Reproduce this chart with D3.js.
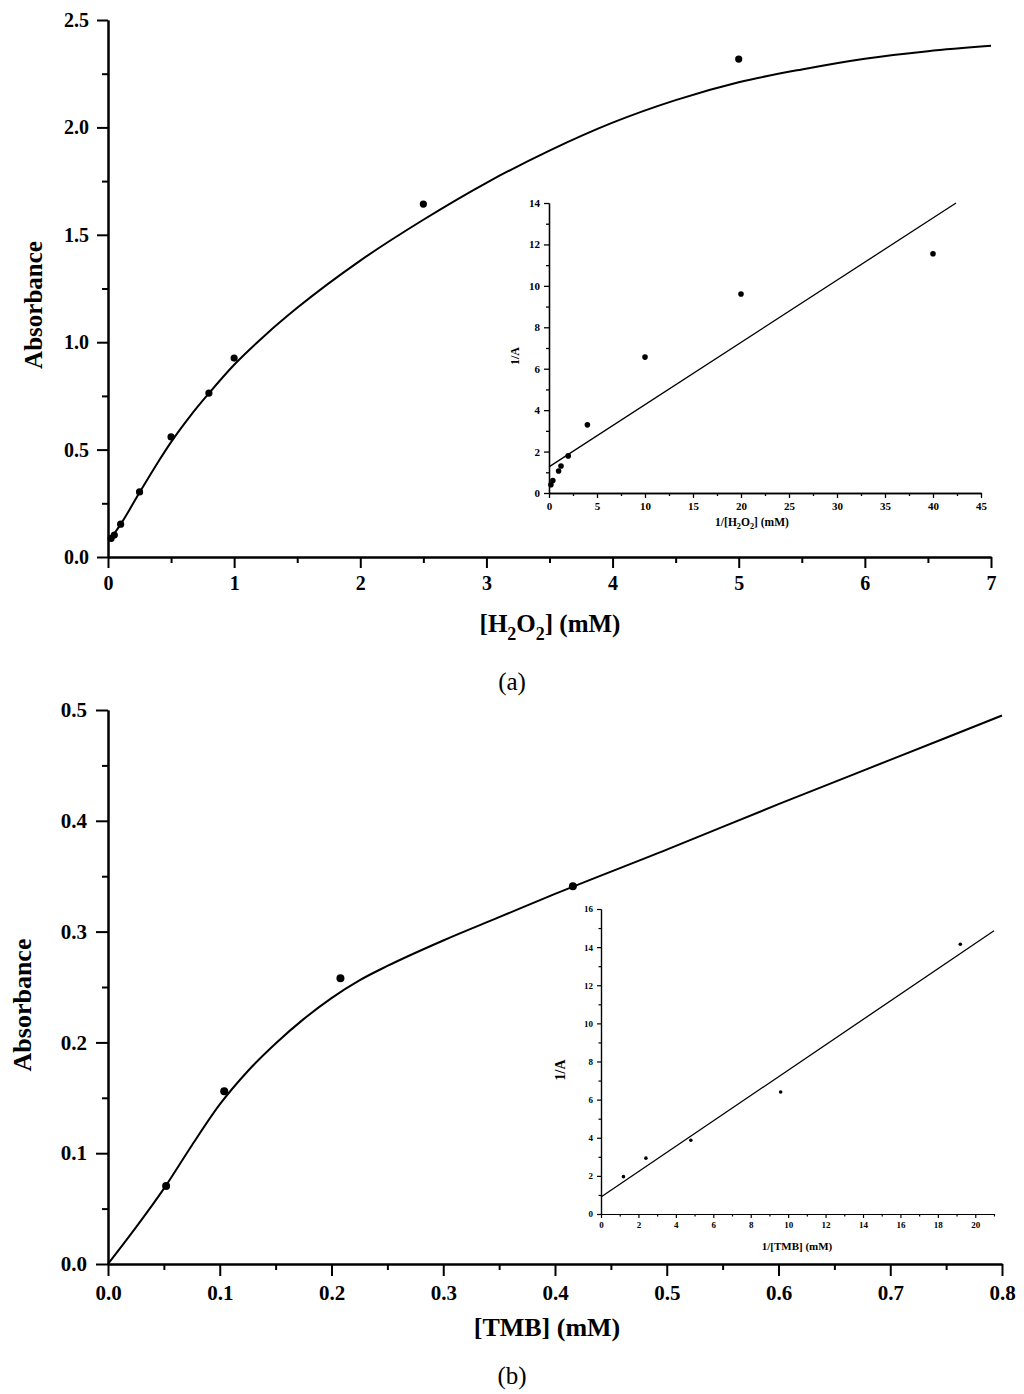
<!DOCTYPE html>
<html lang="en">
<head>
<meta charset="utf-8">
<title>Kinetics of H2O2 and TMB</title>
<script src="https://cdn.jsdelivr.net/npm/d3@7"></script>
<style>
  body { margin: 0; background: #fff; }
  svg text { font-family: "Liberation Serif", "Times New Roman", serif; fill: #000; }
</style>
</head>
<body>
<svg id="chart" width="1024" height="1394"></svg>
<script>
// ---- panel (a): H2O2 ----
var h2o2Conc = [0.025, 0.05, 0.1, 0.25, 0.5, 0.8, 1, 2.5, 5];
var h2o2Abs = [0.087, 0.102, 0.153, 0.303, 0.559, 0.763, 0.926, 1.643, 2.318];
var h2o2FitX = [0.02, 0.1, 0.25, 0.4, 0.5, 0.65, 0.8, 1.0, 1.25, 1.5, 2.0, 2.5, 3.0, 3.5, 4.0, 4.5, 5.0, 5.5, 6.0, 6.5, 7.0];
var h2o2FitY = [0.085, 0.152, 0.3, 0.445, 0.535, 0.655, 0.762, 0.895, 1.035, 1.16, 1.38, 1.57, 1.742, 1.892, 2.022, 2.127, 2.21, 2.27, 2.32, 2.355, 2.38];
var h2o2XTicks = [0, 1, 2, 3, 4, 5, 6, 7];
var h2o2XMinor = [0.5, 1.5, 2.5, 3.5, 4.5, 5.5, 6.5];
var h2o2YTicks = [0, 0.5, 1, 1.5, 2, 2.5];
var h2o2YMinor = [0.25, 0.75, 1.25, 1.75, 2.25];

// inset (a): double reciprocal
var h2o2InvX = [0.2, 0.4, 1, 1.25, 2, 4, 10, 20, 40];
var h2o2InvY = [0.4, 0.6, 1.06, 1.3, 1.79, 3.29, 6.56, 9.61, 11.55];
var h2o2LineX = [0, 42.4];
var h2o2LineY = [1.26, 14];
var h2o2InvXTicks = [0, 5, 10, 15, 20, 25, 30, 35, 40, 45];
var h2o2InvXMinor = [2.5, 7.5, 12.5, 17.5, 22.5, 27.5, 32.5, 37.5, 42.5];
var h2o2InvYTicks = [0, 2, 4, 6, 8, 10, 12, 14];
var h2o2InvYMinor = [1, 3, 5, 7, 9, 11, 13];

// ---- panel (b): TMB ----
var tmbConc = [0.052, 0.104, 0.208, 0.416];
var tmbAbs = [0.0705, 0.156, 0.258, 0.341];
var tmbFitX = [0, 0.025, 0.05, 0.075, 0.1, 0.125, 0.15, 0.175, 0.2, 0.225, 0.25, 0.3, 0.35, 0.4, 0.5, 0.6, 0.7, 0.8];
var tmbFitY = [0, 0.033, 0.068, 0.107, 0.144, 0.174, 0.199, 0.221, 0.24, 0.256, 0.269, 0.292, 0.313, 0.334, 0.374, 0.415, 0.455, 0.495];
var tmbXTicks = [0, 0.1, 0.2, 0.3, 0.4, 0.5, 0.6, 0.7, 0.8];
var tmbXMinor = [0.05, 0.15, 0.25, 0.35, 0.45, 0.55, 0.65, 0.75];
var tmbYTicks = [0, 0.1, 0.2, 0.3, 0.4, 0.5];
var tmbYMinor = [0.05, 0.15, 0.25, 0.35, 0.45];

// inset (b)
var tmbInvX = [1.2, 2.4, 4.8, 9.6, 19.2];
var tmbInvY = [1.96, 2.93, 3.87, 6.4, 14.15];
var tmbLineX = [0, 21];
var tmbLineY = [0.89, 14.86];
var tmbInvXTicks = [0, 2, 4, 6, 8, 10, 12, 14, 16, 18, 20];
var tmbInvXMinor = [1, 3, 5, 7, 9, 11, 13, 15, 17, 19, 21];
var tmbInvYTicks = [0, 2, 4, 6, 8, 10, 12, 14, 16];
var tmbInvYMinor = [1, 3, 5, 7, 9, 11, 13, 15];

var svg = d3.select('#chart');

// draws one set of axes with points and a line through fitX/fitY
var drawPanel = function(o) {
  var g = svg.append('g');
  var x = d3.scaleLinear().domain(o.xDomain).range([o.left, o.right]);
  var y = d3.scaleLinear().domain(o.yDomain).range([o.bottom, o.top]);

  // minor ticks first, then major with the domain line
  g.append('g')
    .attr('transform', 'translate(0,' + o.bottom + ')')
    .call(d3.axisBottom(x).tickValues(o.xMinor).tickSize(o.minorLen).tickSizeOuter(0).tickFormat(''));
  g.append('g')
    .attr('transform', 'translate(' + o.left + ',0)')
    .call(d3.axisLeft(y).tickValues(o.yMinor).tickSize(o.minorLen).tickSizeOuter(0).tickFormat(''));

  g.append('g')
    .attr('transform', 'translate(0,' + o.bottom + ')')
    .call(d3.axisBottom(x).tickValues(o.xTicks).tickSize(o.majorLen).tickSizeOuter(0)
      .tickPadding(o.pad).tickFormat(o.xFormat));
  g.append('g')
    .attr('transform', 'translate(' + o.left + ',0)')
    .call(d3.axisLeft(y).tickValues(o.yTicks).tickSize(o.majorLen).tickSizeOuter(0)
      .tickPadding(o.pad).tickFormat(o.yFormat));

  g.selectAll('.domain, .tick line').attr('stroke', '#000').attr('stroke-width', o.axisWidth);
  g.selectAll('.tick text')
    .attr('font-family', '"Liberation Serif", serif')
    .attr('font-weight', 'bold')
    .attr('font-size', o.tickFont);

  var line = d3.line()
    .x(function(d) { return x(d[0]); })
    .y(function(d) { return y(d[1]); })
    .curve(o.curve || d3.curveLinear);

  g.append('path')
    .datum(d3.zip(o.fitX, o.fitY))
    .attr('d', line)
    .attr('fill', 'none')
    .attr('stroke', '#000')
    .attr('stroke-width', o.lineWidth);

  g.selectAll('circle.pt')
    .data(d3.zip(o.ptX, o.ptY))
    .enter()
    .append('circle')
    .attr('class', 'pt')
    .attr('cx', function(d) { return x(d[0]); })
    .attr('cy', function(d) { return y(d[1]); })
    .attr('r', o.r)
    .attr('fill', '#000');

  return g;
};

// text with subscripts: parts = [[text, isSub], ...]
var label = function(px, py, parts, size, weight, rotate) {
  var t = svg.append('text')
    .attr('text-anchor', 'middle')
    .attr('font-size', size)
    .attr('font-weight', weight)
    .attr('transform', 'translate(' + px + ',' + py + ')' + (rotate ? ' rotate(-90)' : ''));
  var down = false;
  parts.forEach(function(p) {
    var s = t.append('tspan').text(p[0]);
    if (p[1]) {
      s.attr('dy', down ? 0 : size * 0.3).attr('font-size', size * 0.72);
      down = true;
    } else {
      if (down) s.attr('dy', -size * 0.3);
      down = false;
    }
  });
  return t;
};

var fmt1 = d3.format('.1f');

// panel (a) main
drawPanel({
  xDomain: [0, 7], yDomain: [0, 2.5],
  left: 108, right: 991, top: 20, bottom: 557,
  xTicks: h2o2XTicks, xMinor: h2o2XMinor, yTicks: h2o2YTicks, yMinor: h2o2YMinor,
  xFormat: d3.format('d'), yFormat: fmt1,
  majorLen: 11, minorLen: 6, pad: 8, axisWidth: 2, tickFont: 20,
  fitX: h2o2FitX, fitY: h2o2FitY, ptX: h2o2Conc, ptY: h2o2Abs,
  lineWidth: 2, r: 3.6, curve: d3.curveMonotoneX
});

// inset (a)
drawPanel({
  xDomain: [0, 45], yDomain: [0, 14],
  left: 549, right: 981, top: 203, bottom: 493,
  xTicks: h2o2InvXTicks, xMinor: h2o2InvXMinor, yTicks: h2o2InvYTicks, yMinor: h2o2InvYMinor,
  xFormat: d3.format('d'), yFormat: d3.format('d'),
  majorLen: 5, minorLen: 3, pad: 4, axisWidth: 1.3, tickFont: 11,
  fitX: h2o2LineX, fitY: h2o2LineY, ptX: h2o2InvX, ptY: h2o2InvY,
  lineWidth: 1.3, r: 2.8
});

// panel (b) main
drawPanel({
  xDomain: [0, 0.8], yDomain: [0, 0.5],
  left: 108, right: 1002, top: 710, bottom: 1264,
  xTicks: tmbXTicks, xMinor: tmbXMinor, yTicks: tmbYTicks, yMinor: tmbYMinor,
  xFormat: fmt1, yFormat: fmt1,
  majorLen: 12, minorLen: 6, pad: 9, axisWidth: 2, tickFont: 21,
  fitX: tmbFitX, fitY: tmbFitY, ptX: tmbConc, ptY: tmbAbs,
  lineWidth: 2, r: 4, curve: d3.curveMonotoneX
});

// inset (b)
drawPanel({
  xDomain: [0, 21], yDomain: [0, 16],
  left: 601, right: 994, top: 909, bottom: 1214,
  xTicks: tmbInvXTicks, xMinor: tmbInvXMinor, yTicks: tmbInvYTicks, yMinor: tmbInvYMinor,
  xFormat: d3.format('d'), yFormat: d3.format('d'),
  majorLen: 4, minorLen: 2.5, pad: 4, axisWidth: 1.2, tickFont: 9,
  fitX: tmbLineX, fitY: tmbLineY, ptX: tmbInvX, ptY: tmbInvY,
  lineWidth: 1.3, r: 1.8
});

// axis titles
label(42, 305, [['Absorbance', false]], 25, 'bold', true);
label(550, 632, [['[H', false], ['2', true], ['O', false], ['2', true], ['] (mM)', false]], 25, 'bold');
label(512, 690, [['(a)', false]], 25, 'normal');
label(519, 356, [['1/A', false]], 12, 'bold', true);
label(752, 526, [['1/[H', false], ['2', true], ['O', false], ['2', true], ['] (mM)', false]], 11.5, 'bold');

label(31, 1005, [['Absorbance', false]], 26, 'bold', true);
label(547, 1336, [['[TMB] (mM)', false]], 26, 'bold');
label(512, 1384, [['(b)', false]], 25, 'normal');
label(565, 1070, [['1/A', false]], 14, 'bold', true);
label(797, 1250, [['1/[TMB] (mM)', false]], 11, 'bold');
</script>
</body>
</html>
